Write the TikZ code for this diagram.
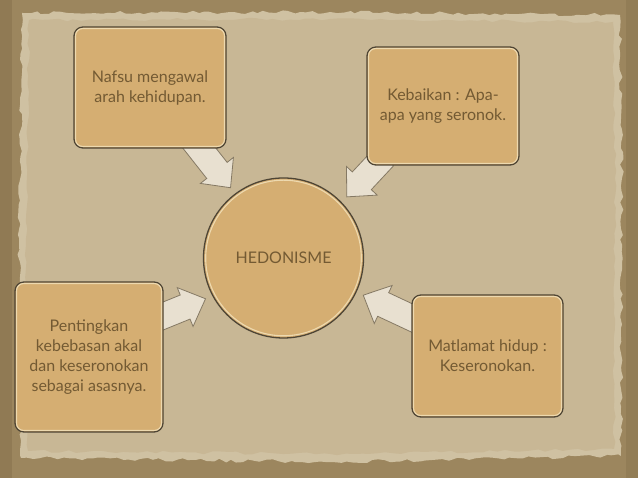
\documentclass[tikz,border=0pt]{standalone}
\usepackage{fontspec}
\setmainfont{Lato}
\usetikzlibrary{calc,decorations.pathmorphing}
\definecolor{outerbg}{HTML}{9C865E}
\definecolor{outerdark}{HTML}{85704B}
\definecolor{paper}{HTML}{C8B795}
\definecolor{paperrim}{HTML}{CFC1A2}
\definecolor{boxfill}{HTML}{D5AE72}
\definecolor{boxline}{HTML}{4E4535}
\definecolor{boxhi}{HTML}{F6E8C4}
\definecolor{txt}{HTML}{735A33}
\definecolor{arrowfill}{HTML}{E8E0D0}
\definecolor{arrowline}{HTML}{857964}
\pgfdeclarelayer{bg}
\pgfdeclarelayer{arr}
\pgfsetlayers{bg,arr,main}
\tikzset{
  every node/.style={text=txt, font=\fontsize{16}{20}\selectfont},
  infobox/.style={rectangle, rounded corners=9pt, fill=boxfill, draw=boxline,
    line width=1.3pt, align=center, inner sep=0pt},
  hubcircle/.style={circle, fill=boxfill, draw=boxline, line width=1.3pt,
    minimum size=160pt, inner sep=0pt},
  hiline/.style={draw=boxhi, line width=1.1pt, opacity=0.75},
  blockarrowstyle/.style={fill=arrowfill, draw=arrowline, line width=0.8pt, line join=miter}
}
\newcommand\blockarrow[2]{%
  \coordinate (#1-h) at ($(#2)!22pt!(#1)$);
  \filldraw[blockarrowstyle]
    ($(#1)!13pt!90:(#2)$) -- ($(#1-h)!13pt!-90:(#1)$) -- ($(#1-h)!21pt!-90:(#1)$)
    -- (#2) -- ($(#1-h)!21pt!90:(#1)$) -- ($(#1-h)!13pt!90:(#1)$)
    -- ($(#1)!13pt!-90:(#2)$) -- cycle;}
\newcommand\boxhilite[1]{%
  \draw[hiline, rounded corners=7pt] ($(#1.south west)+(2.2pt,2.2pt)$) rectangle ($(#1.north east)-(2.2pt,2.2pt)$);}
\begin{document}
\begin{tikzpicture}[x=1pt,y=1pt]
\useasboundingbox (0,0) rectangle (638,478);
\pgfmathsetseed{7}
\begin{pgfonlayer}{bg}
  \fill[outerbg] (0,0) rectangle (638,478);
  \fill[outerdark, opacity=0.5] (0,0) rectangle (12,478);
  \fill[outerdark, opacity=0.4] (626,0) rectangle (638,478);
  \fill[paperrim, decorate, decoration={random steps, segment length=6pt, amplitude=1.8pt}]
    (21,20) -- (330,16) -- (621,22) -- (622,300) -- (620,463) -- (330,466) -- (22,465) -- (19,240) -- cycle;
  \fill[paper, decorate, decoration={random steps, segment length=8pt, amplitude=1.5pt}]
    (28,27) -- (330,24) -- (614,29) -- (615,300) -- (613,456) -- (330,459) -- (29,458) -- (26,240) -- cycle;
\end{pgfonlayer}

\node[infobox, minimum width=152pt, minimum height=121pt] (n1) at (150,390.5) {Nafsu mengawal\\arah kehidupan.};
\node[infobox, minimum width=152pt, minimum height=118pt] (n2) at (443,372) {Kebaikan : Apa-\\apa yang seronok.};
\node[infobox, minimum width=148pt, minimum height=150pt] (n3) at (89,121) {Pentingkan\\kebebasan akal\\dan keseronokan\\sebagai asasnya.};
\node[infobox, minimum width=151pt, minimum height=122pt] (n4) at (487.5,122) {Matlamat hidup :\\Keseronokan.};
\node[hubcircle] (hub) at (283.5,220) {HEDONISME};
\boxhilite{n1}
\boxhilite{n2}
\boxhilite{n3}
\boxhilite{n4}
\draw[hiline] (hub.center) circle (77.8pt);

\coordinate (a1s) at ($(n1.center)+(41,-50)$);
\coordinate (a1t) at ($(hub.center)+(127:88)$);
\coordinate (a2s) at ($(n2.center)+(-59,-51)$);
\coordinate (a2t) at ($(hub.center)+(44:88)$);
\coordinate (a3s) at ($(n3.center)+(56,33.6)$);
\coordinate (a3t) at ($(hub.center)+(207.6:88)$);
\coordinate (a4s) at ($(n4.center)+(-65.7,33.4)$);
\coordinate (a4t) at ($(hub.center)+(-25:88)$);
\begin{pgfonlayer}{arr}
  \blockarrow{a1s}{a1t}
  \blockarrow{a2s}{a2t}
  \blockarrow{a3s}{a3t}
  \blockarrow{a4s}{a4t}
\end{pgfonlayer}
\end{tikzpicture}
\end{document}
